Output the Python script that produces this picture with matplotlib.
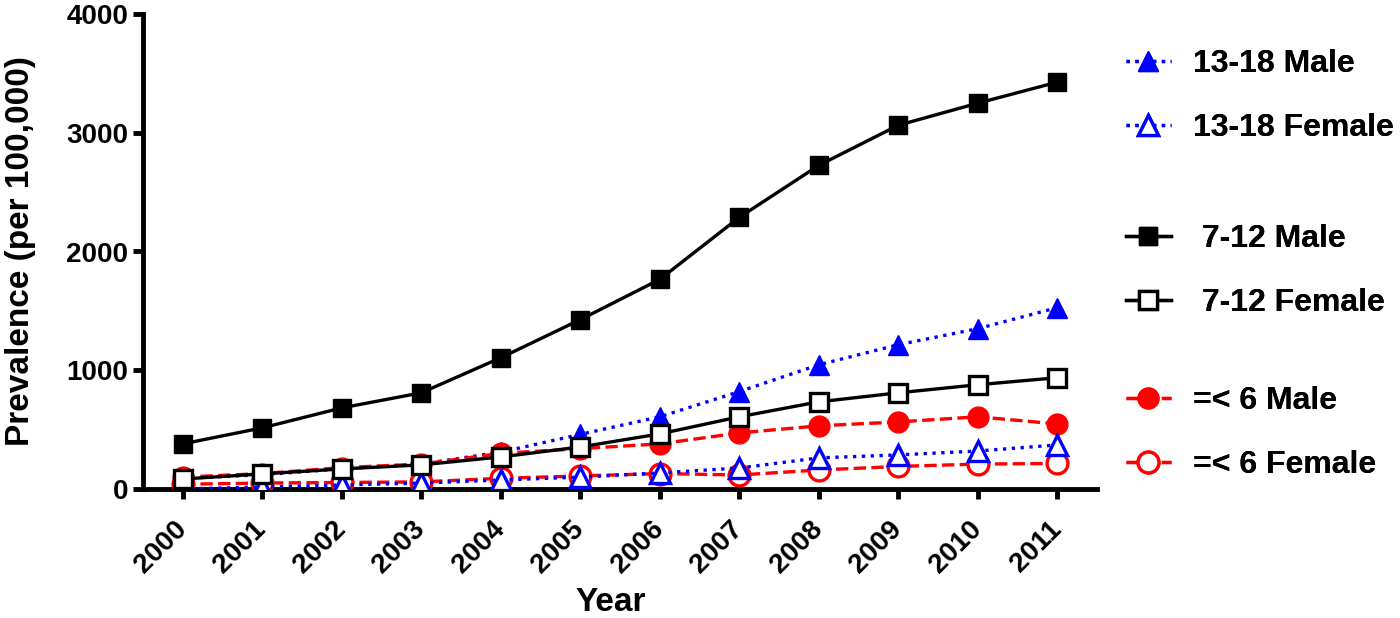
import matplotlib
matplotlib.use("Agg")
import matplotlib.pyplot as plt

plt.rcParams['font.family'] = ['Liberation Sans', 'DejaVu Sans']
plt.rcParams['font.weight'] = 'bold'

years = [2000, 2001, 2002, 2003, 2004, 2005, 2006, 2007, 2008, 2009, 2010, 2011]

male_13_18 = [90, 120, 170, 210, 310, 460, 608, 820, 1046, 1215, 1350, 1527]
female_13_18 = [0, 17, 34, 50, 76, 100, 135, 177, 262, 287, 320, 371]
male_7_12 = [380, 515, 683, 810, 1105, 1426, 1765, 2287, 2725, 3063, 3249, 3426]
female_7_12 = [84, 127, 169, 203, 270, 354, 464, 608, 734, 810, 878, 937]
male_6 = [100, 130, 180, 210, 300, 340, 380, 472, 532, 565, 608, 548]
female_6 = [40, 50, 55, 60, 90, 110, 130, 118, 160, 190, 210, 215]

W, H = 1400, 618
fig = plt.figure(figsize=(14, 6.18), dpi=100)
ax = fig.add_axes([143 / W, 1 - 489 / H, (1097 - 143) / W, (489 - 14) / H])

lw = 2.4
l1, = ax.plot(years, male_13_18, color='blue', linestyle=':', linewidth=lw, marker='^',
              markersize=15, label='13-18 Male', zorder=2)
l5, = ax.plot(years, male_6, color='red', linestyle='--', linewidth=lw, marker='o',
              markersize=15, label='=< 6 Male', zorder=3)
l6, = ax.plot(years, female_6, color='red', linestyle='--', linewidth=lw, marker='o',
              markersize=15, markerfacecolor='white', markeredgewidth=2.4, label='=< 6 Female', zorder=3)
l2, = ax.plot(years, female_13_18, color='blue', linestyle=':', linewidth=lw, marker='^',
              markersize=15, markerfacecolor='white', markeredgewidth=2.4, label='13-18 Female', zorder=4)
l3, = ax.plot(years, male_7_12, color='black', linestyle='-', linewidth=lw, marker='s',
              markersize=13, label=' 7-12 Male', zorder=5)
l4, = ax.plot(years, female_7_12, color='black', linestyle='-', linewidth=lw, marker='s',
              markersize=13, markerfacecolor='white', markeredgewidth=2.4, label=' 7-12 Female', zorder=5)

ax.set_xlim(1999.5, 2011.5)
ax.set_ylim(0, 4000)
ax.set_xticks(years)
ax.set_xticklabels([str(y) for y in years], rotation=45, ha='right', va='center',
                   rotation_mode='anchor')
ax.set_yticks([0, 1000, 2000, 3000, 4000])

for s in ['top', 'right']:
    ax.spines[s].set_visible(False)
for s in ['left', 'bottom']:
    ax.spines[s].set_linewidth(3.5)
ax.tick_params(axis='both', width=3.5, length=7.2, labelsize=20, direction='out')
ax.tick_params(axis='x', pad=19)
for lab in ax.get_xticklabels() + ax.get_yticklabels():
    lab.set_fontweight('bold')

ax.set_xlabel('Year', fontsize=24, fontweight='bold', labelpad=6, x=0.49)
ax.set_ylabel('Prevalence (per 100,000)', fontsize=24, fontweight='bold', labelpad=22)

groups = [([l1, l2], 96), ([l3, l4], 271), ([l5, l6], 433)]
for handles, yc in groups:
    leg = fig.legend(handles=handles, loc='center left', bbox_to_anchor=(1113 / W, 1 - yc / H),
                     frameon=False, prop={'size': 23, 'weight': 'bold'},
                     handlelength=1.4, handletextpad=0.7, labelspacing=1.07, borderaxespad=0)
    fig.add_artist(leg)

fig.savefig('out.png', dpi=100)
